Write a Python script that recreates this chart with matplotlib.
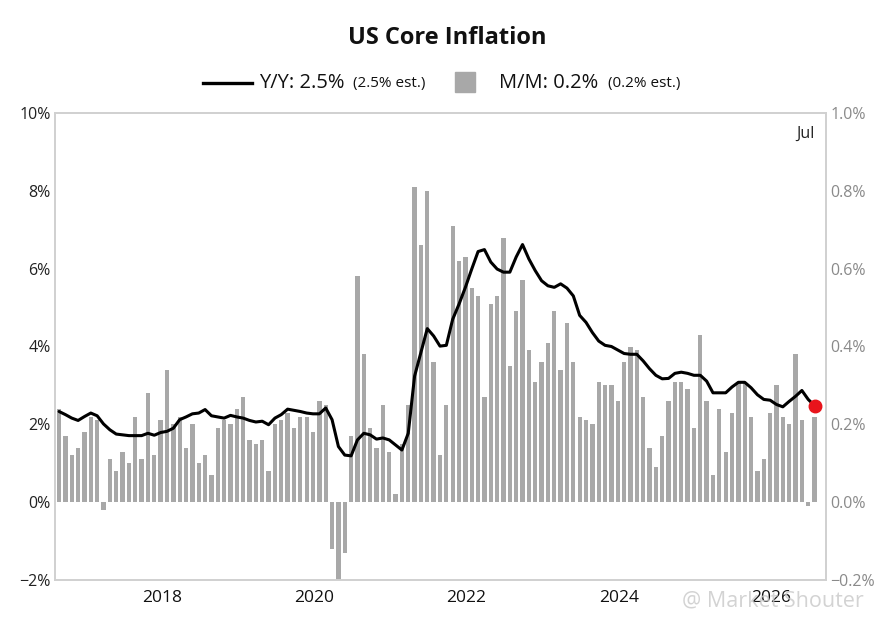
import matplotlib
matplotlib.use("Agg")
import matplotlib.pyplot as plt
import pandas as pd
import numpy as np

plt.rcParams['font.family'] = ['Open Sans', 'DejaVu Sans']

# ---- data ----
start_month = '2016-08'
end_month = '2026-07'
yoy = [2.33, 2.25, 2.16, 2.10, 2.20, 2.29, 2.22, 2.01, 1.86, 1.75,
       1.73, 1.71, 1.71, 1.71, 1.77, 1.72, 1.79, 1.82, 1.90, 2.12,
       2.19, 2.27, 2.29, 2.38, 2.22, 2.19, 2.16, 2.23, 2.19, 2.16,
       2.10, 2.06, 2.08, 1.99, 2.16, 2.25, 2.39, 2.36, 2.33, 2.29,
       2.27, 2.27, 2.42, 2.12, 1.43, 1.21, 1.19, 1.60, 1.77, 1.73,
       1.62, 1.65, 1.60, 1.47, 1.34, 1.77, 3.24, 3.85, 4.46, 4.27,
       4.01, 4.03, 4.70, 5.09, 5.52, 5.99, 6.44, 6.49, 6.17, 5.99,
       5.91, 5.91, 6.30, 6.62, 6.25, 5.95, 5.69, 5.56, 5.52, 5.61,
       5.50, 5.30, 4.80, 4.62, 4.36, 4.14, 4.03, 4.00, 3.91, 3.82,
       3.80, 3.80, 3.63, 3.43, 3.26, 3.17, 3.18, 3.31, 3.34, 3.31,
       3.26, 3.26, 3.11, 2.81, 2.81, 2.81, 2.96, 3.08, 3.08, 2.94,
       2.76, 2.64, 2.62, 2.51, 2.45, 2.59, 2.72, 2.87, 2.64, 2.48]
mom = [0.24, 0.17, 0.12, 0.14, 0.18, 0.22, 0.21, -0.02, 0.11, 0.08,
       0.13, 0.10, 0.22, 0.11, 0.28, 0.12, 0.21, 0.34, 0.20, 0.22,
       0.14, 0.20, 0.10, 0.12, 0.07, 0.19, 0.21, 0.20, 0.24, 0.27,
       0.16, 0.15, 0.16, 0.08, 0.20, 0.21, 0.23, 0.19, 0.22, 0.22,
       0.18, 0.26, 0.25, -0.12, -0.45, -0.13, 0.17, 0.58, 0.38, 0.19,
       0.14, 0.25, 0.13, 0.02, 0.15, 0.25, 0.81, 0.66, 0.80, 0.36,
       0.12, 0.25, 0.71, 0.62, 0.63, 0.55, 0.53, 0.27, 0.51, 0.53,
       0.68, 0.35, 0.49, 0.57, 0.39, 0.31, 0.36, 0.41, 0.49, 0.34,
       0.46, 0.36, 0.22, 0.21, 0.20, 0.31, 0.30, 0.30, 0.26, 0.36,
       0.40, 0.39, 0.27, 0.14, 0.09, 0.17, 0.26, 0.31, 0.31, 0.29,
       0.19, 0.43, 0.26, 0.07, 0.24, 0.13, 0.23, 0.31, 0.31, 0.22,
       0.08, 0.11, 0.23, 0.30, 0.22, 0.20, 0.38, 0.21, -0.01, 0.22]
left_ticks = [-2, 0, 2, 4, 6, 8, 10]
right_ticks = [-0.2, 0.0, 0.2, 0.4, 0.6, 0.8, 1.0]
year_ticks = [2018, 2020, 2022, 2024, 2026]
title = "US Core Inflation"
last_label = "Jul"

months = pd.period_range(start_month, end_month, freq='M')
x = np.array([p.year + (p.month - 1) / 12 + 0.07 for p in months])

fig = plt.figure(figsize=(8.95, 6.22), dpi=100)
ax = fig.add_axes([55 / 895, 1 - 580 / 622, (826 - 55) / 895, (580 - 113) / 622])
ax2 = ax.twinx()

ax2.bar(x, mom, width=0.68 / 12, color='#a8a8a8', linewidth=0)
ax.plot(x, yoy, color='black', lw=2.2, solid_capstyle='round', zorder=3)
ax.plot([x[-1]], [yoy[-1]], 'o', color='#e8141b', ms=9, zorder=4)

ax.set_zorder(ax2.get_zorder() + 1)
ax.patch.set_visible(False)

ax.set_xlim(2016.60, 2026.72)
ax.set_ylim(-2, 10)
ax2.set_ylim(-0.2, 1.0)

ax.set_yticks(left_ticks)
ax.set_yticklabels([f"{t:d}%".replace('-', '\u2212') for t in left_ticks])
ax2.set_yticks(right_ticks)
ax2.set_yticklabels([f"{t:.1f}%".replace('-', '\u2212') for t in right_ticks])
ax.set_xticks(year_ticks)
ax.set_xticklabels([str(t) for t in year_ticks])

ax.tick_params(axis='y', length=0, pad=3, labelsize=11.5, labelcolor='#222222')
ax.tick_params(axis='x', length=0, pad=7, labelsize=12.5, labelcolor='#111111')
ax2.tick_params(axis='y', length=0, pad=3, labelsize=11.5, labelcolor='#8a8a8a')

for a in (ax, ax2):
    for s in a.spines.values():
        s.set_color('#d0d0d0')
        s.set_linewidth(1.2)

ax.text(0.985, 0.955, last_label, transform=ax.transAxes, ha='right', va='center',
        fontsize=11.5, color='#222222')

# title
fig.text(0.5, 1 - 38 / 622, title, ha='center', va='center', fontsize=17,
         fontweight='bold', color='#111111')

# legend (manual)
ly = 1 - 83 / 622
fig.add_artist(plt.Line2D([203 / 895, 252 / 895], [ly, ly], color='black', lw=2.4))
fig.text(259 / 895, ly, "Y/Y: 2.5%", ha='left', va='center', fontsize=14.5, color='#111111')
fig.text(353 / 895, ly, "(2.5% est.)", ha='left', va='center', fontsize=11, color='#111111')
fig.add_artist(plt.Rectangle((455 / 895, 1 - 92 / 622), 20 / 895, 20 / 622,
                             color='#a8a8a8', transform=fig.transFigure))
fig.text(499 / 895, ly, "M/M: 0.2%", ha='left', va='center', fontsize=14.5, color='#111111')
fig.text(608 / 895, ly, "(0.2% est.)", ha='left', va='center', fontsize=11, color='#111111')

# watermark
fig.text(682 / 895, 1 - 601 / 622, "@ Market Shouter", ha='left', va='center',
         fontsize=15.5, color='#c8c8c8', alpha=0.8)

fig.savefig("out.png", dpi=100)
